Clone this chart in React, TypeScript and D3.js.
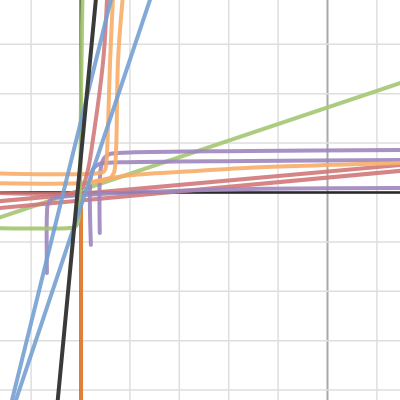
import React, { useEffect, useRef } from 'react'
import * as d3 from 'd3'

type Pt = [number, number]

// grid ticks (graph units)
const xTicks = [-6, -5, -4, -3, -2, -1, 0, 1]
const yTicks = [-4, -3, -2, -1, 0, 1, 2, 3]

// curves, in graph units
const blackSteep: Pt[] = [[-5.47, -4.3], [-4.68, 4.0]]
const blueA: Pt[] = [[-6.41, -4.3], [-4.36, 4.0]]
const blueB: Pt[] = [[-6.34, -4.3], [-3.56, 4.0]]
const greenLine: Pt[] = [[-6.8, -0.56], [1.6, 2.26]]
const redA: Pt[] = [[-6.8, -0.19], [1.6, 0.57]]
const redB: Pt[] = [[-6.8, -0.33], [1.6, 0.45]]
const blackH: Pt[] = [[-6.8, 0], [1.6, 0]]
const blackV: Pt[] = [[-5.0, -4.3], [-5.0, 4.0]]
const orangeV: Pt[] = [[-4.98, 0.05], [-4.98, -4.3]]

const greenCurve: Pt[] = [[-6.8, -0.72], [-5.21, -0.72], [-5.11, -0.7], [-5.05, -0.6], [-5.03, -0.4], [-5.01, 0.05], [-4.99, 1.87], [-4.96, 4.0]]
const redCurve: Pt[] = [[-6.8, 0], [-5.11, 0], [-4.97, 0.09], [-4.85, 0.46], [-4.75, 1.06], [-4.54, 2.68], [-4.46, 4.0]]
const orange1: Pt[] = [[-6.8, 0.39], [-4.65, 0.39], [-4.52, 0.43], [-4.48, 0.56], [-4.46, 0.86], [-4.4, 2.68], [-4.34, 4.0]]
const orange2: Pt[] = [[-6.8, 0.19], [-4.91, 0.19], [-4.61, 0.23], [-4.4, 0.29], [-4.32, 0.41], [-4.28, 0.86], [-4.24, 2.68], [-4.14, 4.0]]
const orange3: Pt[] = [[-4.95, 0.17], [-4.61, 0.25], [-4.0, 0.35], [-2.58, 0.44], [-1.57, 0.5], [1.6, 0.6]]
const purple1: Pt[] = [[1.6, 0.86], [-1.57, 0.84], [-4.0, 0.81], [-4.4, 0.78], [-4.52, 0.7], [-4.58, 0.54], [-4.61, 0.25], [-4.61, -0.82]]
const purple2: Pt[] = [[1.6, 0.66], [-1.57, 0.64], [-4.2, 0.61], [-4.61, 0.58], [-4.73, 0.5], [-4.79, 0.33], [-4.79, -1.06]]
const purple3: Pt[] = [[1.6, 0.09], [-1.57, 0.07], [-4.61, -0.03], [-5.42, -0.09], [-5.58, -0.13], [-5.66, -0.23], [-5.68, -0.46], [-5.68, -1.63]]

const series: { pts: Pt[]; color: string; w: number; op: number }[] = [
    { pts: blackV, color: "#2f2f2f", w: 2, op: 1 },
    { pts: orangeV, color: "#e0803a", w: 3, op: 1 },
    { pts: blackH, color: "#2a2a2a", w: 2.5, op: 1 },
    { pts: greenLine, color: "#a9c87a", w: 4, op: 0.95 },
    { pts: redA, color: "#d07878", w: 4, op: 0.9 },
    { pts: redB, color: "#d07878", w: 4, op: 0.9 },
    { pts: purple3, color: "#9d86bd", w: 4, op: 0.9 },
    { pts: purple2, color: "#9d86bd", w: 4, op: 0.9 },
    { pts: purple1, color: "#9d86bd", w: 4, op: 0.9 },
    { pts: orange3, color: "#f7ad68", w: 4, op: 0.9 },
    { pts: orange2, color: "#f7ad68", w: 4, op: 0.9 },
    { pts: orange1, color: "#f7ad68", w: 4, op: 0.9 },
    { pts: redCurve, color: "#cf7272", w: 4, op: 0.85 },
    { pts: greenCurve, color: "#a3c46e", w: 4, op: 0.9 },
    { pts: blueA, color: "#76a0d2", w: 4, op: 0.9 },
    { pts: blueB, color: "#76a0d2", w: 4, op: 0.9 },
    { pts: blackSteep, color: "#3a3a3a", w: 4, op: 1 },
]

export default function App() {
    const svgRef = useRef<SVGSVGElement>(null)
    const width = 400
    const height = 400

    useEffect(() => {
        if (!svgRef.current) return
        const svg = d3.select(svgRef.current)
        svg.selectAll("*").remove()

        const unit = 49.4
        const x = d3.scaleLinear().domain([-327.5 / unit, 72.5 / unit]).range([0, width])
        const y = d3.scaleLinear().domain([192.5 / unit, -207.5 / unit]).range([0, height])

        svg.append("defs").append("clipPath").attr("id", "plot")
            .append("rect").attr("width", width).attr("height", height)

        svg.append("rect").attr("width", width).attr("height", height).attr("fill", "#fff")

        const grid = svg.append("g")
        grid.selectAll("line.vx")
            .data(xTicks)
            .enter().append("line")
            .attr("x1", d => x(d)).attr("x2", d => x(d))
            .attr("y1", 0).attr("y2", height)
            .attr("stroke", d => d === 0 ? "#a8a8a8" : "#dedede")
            .attr("stroke-width", d => d === 0 ? 2 : 1.5)
        grid.selectAll("line.hy")
            .data(yTicks)
            .enter().append("line")
            .attr("y1", d => y(d)).attr("y2", d => y(d))
            .attr("x1", 0).attr("x2", width)
            .attr("stroke", d => d === 0 ? "#a8a8a8" : "#dedede")
            .attr("stroke-width", d => d === 0 ? 2 : 1.5)

        const line = d3.line<Pt>()
            .x(d => x(d[0]))
            .y(d => y(d[1]))
            .curve(d3.curveCatmullRom.alpha(0.5))

        svg.append("g")
            .attr("clip-path", "url(#plot)")
            .selectAll("path")
            .data(series)
            .enter().append("path")
            .attr("d", d => line(d.pts))
            .attr("fill", "none")
            .attr("stroke", d => d.color)
            .attr("stroke-width", d => d.w)
            .attr("stroke-opacity", d => d.op)
            .attr("stroke-linecap", "round")
            .attr("stroke-linejoin", "round")
    }, [])

    return (
        <svg ref={svgRef} width={width} height={height} viewBox={`0 0 ${width} ${height}`}
            style={{ position: 'absolute', left: 0, top: 0 }} />
    )
}
